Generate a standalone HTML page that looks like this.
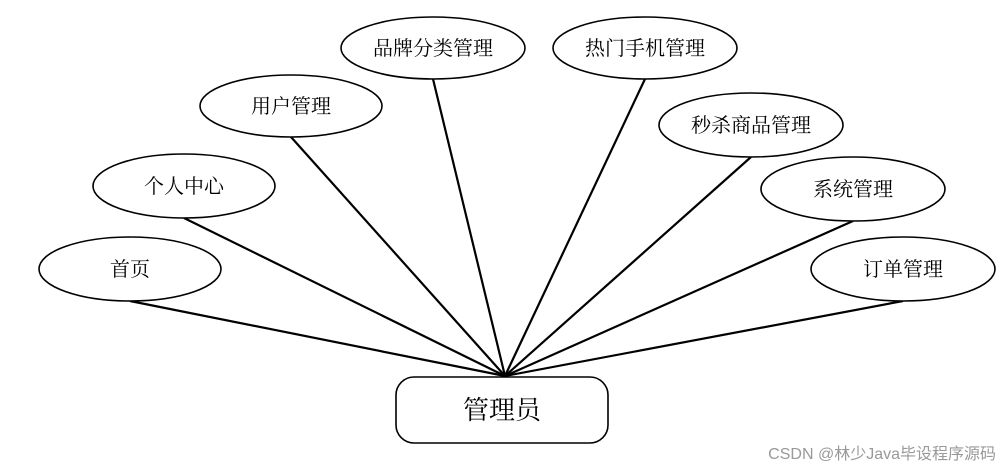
<!DOCTYPE html>
<html><head><meta charset="utf-8"><style>
html,body{margin:0;padding:0;background:#fff;}
svg{display:block}
text{font-family:"Liberation Serif","Noto Serif CJK SC",serif;}
</style></head><body>
<svg width="1008" height="473" viewBox="0 0 1008 473" xmlns="http://www.w3.org/2000/svg">
<g stroke="#000" stroke-width="2.2" fill="none">
<line x1="130" y1="301" x2="505" y2="376"/>
<line x1="184" y1="218" x2="505" y2="376"/>
<line x1="291" y1="137" x2="505" y2="376"/>
<line x1="433" y1="79" x2="505" y2="376"/>
<line x1="645" y1="79" x2="505" y2="376"/>
<line x1="751" y1="157" x2="505" y2="376"/>
<line x1="853" y1="221" x2="505" y2="376"/>
<line x1="903" y1="301" x2="505" y2="376"/>
</g>
<g stroke="#000" stroke-width="1.6" fill="#fff">
<ellipse cx="130" cy="269" rx="91" ry="32"/>
<ellipse cx="184" cy="186" rx="91" ry="32"/>
<ellipse cx="291" cy="106" rx="91" ry="31"/>
<ellipse cx="433" cy="48" rx="92" ry="31"/>
<ellipse cx="645" cy="48" rx="92" ry="31"/>
<ellipse cx="751" cy="125" rx="92" ry="32"/>
<ellipse cx="853" cy="189" rx="92" ry="32"/>
<ellipse cx="903" cy="269" rx="92" ry="32"/>
<rect x="396" y="377" width="212" height="66" rx="18" ry="18"/>
</g>
<g font-size="20" fill="#000" text-anchor="middle">
<text x="130" y="276">首页</text>
<text x="184" y="193">个人中心</text>
<text x="291" y="113">用户管理</text>
<text x="433" y="55">品牌分类管理</text>
<text x="645" y="55">热门手机管理</text>
<text x="751" y="132">秒杀商品管理</text>
<text x="853" y="196">系统管理</text>
<text x="903" y="276">订单管理</text>
<text x="502" y="419" font-size="26">管理员</text>
</g>
<text x="996" y="459" font-size="16" fill="#999" text-anchor="end" style="font-family:'Liberation Sans','Noto Sans CJK SC',sans-serif">CSDN @林少Java毕设程序源码</text>
</svg>
</body></html>
